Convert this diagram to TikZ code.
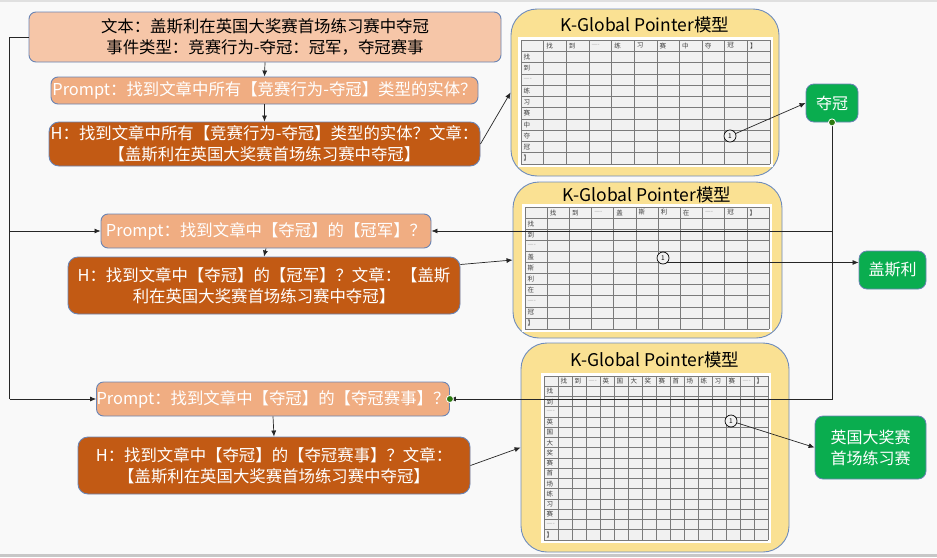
\documentclass[tikz,border=0pt]{standalone}
\usepackage{fontspec}
\setmainfont{Noto Sans CJK SC}
\usetikzlibrary{arrows.meta,calc}
\definecolor{bgc}{HTML}{F9F9F9}
\definecolor{topfill}{HTML}{F6C6A8}
\definecolor{promptfill}{HTML}{F0AD82}
\definecolor{hfill}{HTML}{C25A14}
\definecolor{boxborder}{HTML}{6A84B4}
\definecolor{panelfill}{HTML}{FAE193}
\definecolor{panelborder}{HTML}{6F8CBC}
\definecolor{greenfill}{HTML}{0AAD4F}
\definecolor{dotgreen}{HTML}{2C7A10}
\definecolor{cellgray}{HTML}{F1F1F1}
\definecolor{gridline}{HTML}{7A7A7A}
\tikzset{
  box/.style={draw=boxborder,line width=0.9pt,rounded corners=7pt,inner sep=0pt,align=center,font=\fontsize{16.4}{21}\selectfont},
  topbox/.style={box,fill=topfill,text=black},
  promptbox/.style={box,fill=promptfill,text=white},
  hbox/.style={box,fill=hfill,text=white,rounded corners=10pt},
  panel/.style={draw=panelborder,line width=0.9pt,fill=panelfill,rounded corners=26pt,inner sep=0pt},
  ptitle/.style={font=\fontsize{17.5}{20}\selectfont,text=black,inner sep=0pt},
  gnode/.style={draw=boxborder,line width=0.8pt,fill=greenfill,text=white,rounded corners=8pt,inner sep=0pt,align=center,font=\fontsize{16}{21}\selectfont},
  glab/.style={font=\fontsize{6.5}{7}\selectfont,text=black!75,inner sep=0pt,anchor=west},
  circ/.style={circle,draw=black,line width=0.7pt,fill=cellgray,minimum size=12pt,inner sep=0pt,font=\fontsize{6.5}{7}\selectfont},
  conn/.style={draw=black!85,line width=0.7pt},
  arr/.style={conn,-{Latex[length=6pt,width=5pt]}},
  gdot/.style={circle,fill=dotgreen,draw=white,line width=0.8pt,minimum size=7pt,inner sep=0pt}
}
\newcommand\dsh{\textcolor{black!35}{----}}
% x0 y0 x1 y1 n labels prefix
\newcommand\kgrid[7]{%
  \pgfmathsetmacro\kcw{(#3-#1)/(#5+1)}%
  \pgfmathsetmacro\kch{(#4-#2)/(#5+1)}%
  \pgfmathtruncatemacro\knn{#5+1}%
  \fill[white] (#1-3,#2-3) rectangle (#3+3,#4+3);
  \fill[cellgray] (#1,#2) rectangle (#3,#4);
  \foreach \k in {0,...,\knn}{%
    \draw[gridline,line width=0.6pt] (#1+\k*\kcw,#2) -- (#1+\k*\kcw,#4);
    \draw[gridline,line width=0.6pt] (#1,#2+\k*\kch) -- (#3,#2+\k*\kch);
  }
  \foreach \l [count=\i] in {#6}{%
    \node[glab] (#7c\i) at (#1+\i*\kcw+2.5,#2+0.5*\kch) {\l};
    \node[glab] (#7r\i) at (#1+2.5,#2+\i*\kch+0.5*\kch) {\l};
  }
}
\begin{document}
\begin{tikzpicture}[x=1pt,y=-1pt]
\useasboundingbox (0,0) rectangle (937,557);
\fill[bgc] (0,0) rectangle (937,557);
\fill[black!12] (0,0) rectangle (937,2);
\fill[black!22] (0,554) rectangle (937,557);

% left column boxes
\node[topbox,minimum width=472pt,minimum height=50pt] (top) at (265,37) {文本：盖斯利在英国大奖赛首场练习赛中夺冠\\事件类型：竞赛行为-夺冠：冠军，夺冠赛事};
\node[promptbox,minimum width=427pt,minimum height=27pt] (p1) at (264.5,90.5) {Prompt：找到文章中所有【竞赛行为-夺冠】类型的实体？};
\node[hbox,minimum width=431pt,minimum height=44pt] (h1) at (264.5,144) {H：找到文章中所有【竞赛行为-夺冠】类型的实体？文章：\\【盖斯利在英国大奖赛首场练习赛中夺冠】};
\node[promptbox,minimum width=330pt,minimum height=34pt] (p2) at (266,231) {Prompt：找到文章中【夺冠】的【冠军】？};
\node[hbox,minimum width=392pt,minimum height=57pt] (h2) at (264,285.5) {H：找到文章中【夺冠】的【冠军】？文章：【盖斯\\利在英国大奖赛首场练习赛中夺冠】};
\node[promptbox,minimum width=346pt,minimum height=34pt] (p3) at (273,399) {Prompt：找到文章中【夺冠】的【夺冠赛事】？};
\node[hbox,minimum width=392pt,minimum height=57pt] (h3) at (274,465.5) {H：找到文章中【夺冠】的【夺冠赛事】？文章：\\【盖斯利在英国大奖赛首场练习赛中夺冠】};

% panels
\node[panel,minimum width=268pt,minimum height=167pt] (k1) at (645,92.5) {};
\node[panel,minimum width=269pt,minimum height=156pt] (k2) at (647.5,260) {};
\node[panel,minimum width=268pt,minimum height=209pt] (k3) at (655,447.5) {};
\node[ptitle] (t1) at (645,25) {K-Global Pointer模型};
\node[ptitle] (t2) at (647,195) {K-Global Pointer模型};
\node[ptitle] (t3) at (655,360) {K-Global Pointer模型};

\kgrid{521}{40}{770}{164}{10}{找,到,\dsh,练,习,赛,中,夺,冠,】}{ga}
\kgrid{525}{207}{769}{329}{10}{找,到,\dsh,盖,斯,利,在,\dsh,冠,】}{gb}
\kgrid{544}{376}{768}{540}{15}{找,到,\dsh,英,国,大,奖,赛,首,场,练,习,赛,\dsh,】}{gc}

% result nodes
\node[gnode,minimum width=52pt,minimum height=38pt] (dg) at (832,103) {夺冠};
\node[gnode,minimum width=67pt,minimum height=38pt] (gsl) at (892.5,270) {盖斯利};
\node[gnode,minimum width=111pt,minimum height=63pt] (yg) at (870.5,447.5) {英国大奖赛\\首场练习赛};

% connectors
\coordinate (lt) at ($(top.west)+(-19,0)$);
\draw[conn] (top.west) -- (lt) -- (lt |- p3.west);
\draw[arr] (lt |- p2.west) -- (p2.west);
\draw[arr] (lt |- p3.west) -- (p3.west);
\draw[arr] (top.south) -- (p1.north);
\draw[arr] (p1.south) -- (h1.north);
\draw[arr] (p2.south) -- (h2.north);
\draw[arr] (p3.south) -- (h3.north);
\draw[arr] (h1.east) -- (k1.west);
\draw[arr] ($(h2.east)+(0,-21)$) -- (k2.west);
\draw[arr] (h3.east) -- (k3.west);

% circles in grids
\node[circ] (c1) at (730,136) {1};
\node[circ] (c2) at (663,258) {1};
\node[circ] (c3) at (731,421) {1};

\draw[arr] (c1) -- (dg.west);
\draw[arr] (c2.-45) -- (c2.-45 -| gsl.west);
\draw[arr] (c3) -- (yg.west);

\coordinate (vb) at (dg.south |- p2.east);
\draw[arr] (dg.south) -- (vb) -- (p2.east);
\draw[arr] (vb) -- (dg.south |- p3.east) -- (p3.east);
\node[gdot] (d1) at (dg.south) {};
\node[gdot] (d2) at (p3.east) {};
\end{tikzpicture}
\end{document}
